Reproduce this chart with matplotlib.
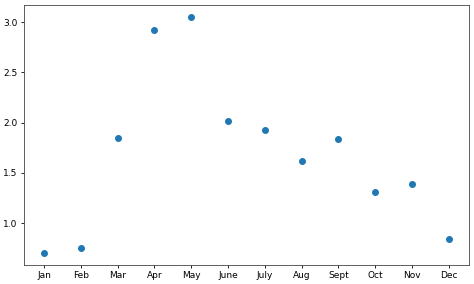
import numpy as np
import matplotlib.pyplot as plt

months = ['Jan', 'Feb', 'Mar', 'Apr', 'May', 'June', 'July', 'Aug', 'Sept', 'Oct', 'Nov', 'Dec']
values = [0.70, 0.75, 1.85, 2.92, 3.05, 2.02, 1.925, 1.62, 1.84, 1.31, 1.39, 0.845]

plt.rcParams['font.size'] = 6.5

fig = plt.figure(figsize=(4.74, 2.84), dpi=100)
ax = fig.add_axes([0.0506, 0.067, 0.9384, 0.914])

ax.scatter(months, values, s=16, color='#1f77b4')
ax.set_yticks([1.0, 1.5, 2.0, 2.5, 3.0])
ax.tick_params(length=2.5, width=0.6, pad=2)
for s in ax.spines.values():
    s.set_linewidth(0.6)
    s.set_color('#444444')

plt.savefig('out.png')
